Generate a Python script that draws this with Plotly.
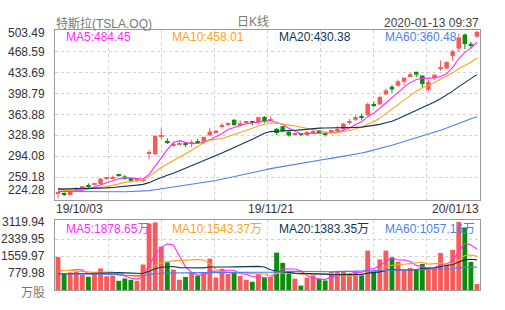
import numpy as np
import pandas as pd
import plotly.graph_objects as go

# ---------------- data ----------------
dates = ["2019-10-03", "2019-10-04", "2019-10-07", "2019-10-08", "2019-10-09", "2019-10-10", "2019-10-11",
         "2019-10-14", "2019-10-15", "2019-10-16", "2019-10-17", "2019-10-18", "2019-10-21", "2019-10-22",
         "2019-10-23", "2019-10-24", "2019-10-25", "2019-10-28", "2019-10-29", "2019-10-30", "2019-10-31",
         "2019-11-01", "2019-11-04", "2019-11-05", "2019-11-06", "2019-11-07", "2019-11-08", "2019-11-11",
         "2019-11-12", "2019-11-13", "2019-11-14", "2019-11-15", "2019-11-18", "2019-11-19", "2019-11-20",
         "2019-11-21", "2019-11-22", "2019-11-25", "2019-11-26", "2019-11-27", "2019-11-29", "2019-12-02",
         "2019-12-03", "2019-12-04", "2019-12-05", "2019-12-06", "2019-12-09", "2019-12-10", "2019-12-11",
         "2019-12-12", "2019-12-13", "2019-12-16", "2019-12-17", "2019-12-18", "2019-12-19", "2019-12-20",
         "2019-12-23", "2019-12-24", "2019-12-26", "2019-12-27", "2019-12-30", "2019-12-31", "2020-01-02",
         "2020-01-03", "2020-01-06", "2020-01-07", "2020-01-08", "2020-01-09", "2020-01-10", "2020-01-13"]

opens = [231.86, 231.61, 229.80, 238.20, 241.32, 245.36, 247.10, 247.90, 257.70, 257.38,
         262.50, 260.70, 258.33, 254.32, 254.50, 298.37, 297.72, 327.54, 319.99, 313.00,
         313.10, 316.32, 314.80, 319.62, 318.00, 329.14, 334.50, 343.95, 346.90, 355.00,
         346.11, 350.64, 352.92, 351.00, 360.00, 354.51, 340.16, 344.32, 335.27, 331.12,
         331.11, 329.40, 332.62, 337.75, 332.83, 335.00, 336.59, 339.34, 351.01, 354.92,
         361.05, 362.55, 379.50, 380.63, 397.32, 410.29, 411.78, 418.36, 427.91, 435.00,
         428.79, 405.00, 424.50, 440.50, 440.47, 461.40, 473.70, 497.10, 481.79, 493.50]
highs = [234.48, 234.78, 238.74, 243.23, 244.80, 249.28, 250.00, 258.00, 260.00, 262.10,
         264.78, 262.80, 258.50, 258.33, 256.14, 304.93, 330.00, 340.84, 324.30, 318.79,
         319.00, 316.48, 321.94, 323.51, 326.72, 341.50, 337.46, 349.85, 350.40, 356.33,
         353.84, 352.80, 353.15, 359.99, 361.20, 360.84, 341.00, 344.57, 335.50, 333.93,
         331.26, 336.38, 337.91, 337.86, 334.42, 338.86, 344.45, 349.94, 356.50, 362.74,
         365.21, 383.61, 385.50, 395.22, 406.85, 413.00, 422.01, 425.47, 433.48, 435.31,
         429.00, 421.29, 430.70, 454.00, 451.56, 471.63, 498.49, 498.80, 484.94, 503.49]
lows = [224.28, 228.07, 229.56, 235.45, 239.72, 241.58, 246.51, 247.17, 255.12, 256.92,
        260.17, 255.10, 250.03, 250.85, 251.35, 289.20, 296.11, 322.60, 314.75, 309.97,
        313.00, 309.80, 309.26, 316.12, 314.50, 328.02, 332.50, 340.40, 344.13, 345.18,
        344.22, 348.36, 346.10, 347.80, 349.57, 354.00, 330.00, 334.46, 327.10, 328.57,
        327.50, 328.69, 332.19, 332.85, 327.25, 334.77, 335.53, 338.45, 347.14, 353.23,
        354.64, 362.50, 375.90, 380.58, 396.50, 400.19, 410.00, 412.69, 426.35, 426.11,
        409.26, 402.08, 421.71, 436.92, 440.00, 453.36, 468.23, 472.87, 473.70, 492.00]
closes = [233.03, 231.43, 237.72, 240.05, 244.53, 244.74, 247.89, 256.96, 257.89, 259.75,
          261.97, 256.95, 253.50, 255.58, 254.68, 299.68, 328.13, 327.71, 316.22, 315.01,
          314.92, 313.31, 317.47, 317.22, 326.58, 335.54, 337.14, 345.09, 349.93, 346.11,
          349.35, 352.17, 349.99, 359.52, 352.22, 354.83, 333.04, 336.34, 328.92, 331.29,
          329.94, 334.87, 336.20, 333.03, 330.37, 335.89, 339.53, 348.84, 352.70, 359.68,
          358.39, 381.50, 378.99, 393.15, 404.04, 405.59, 419.22, 425.25, 430.94, 430.38,
          414.70, 418.33, 430.26, 443.01, 451.54, 469.06, 492.14, 481.34, 478.15, 501.56]
# volume, 10k shares (万股)
volumes = [1513, 764, 811, 840, 700, 610, 740, 990, 630, 660,
           421, 530, 468, 421, 1170, 3050, 3100, 1990, 1270, 936,
           470, 600, 811, 660, 811, 1440, 577, 975, 740, 811,
           640, 470, 380, 733, 577, 585, 1716, 1248, 755, 520,
           203, 562, 671, 515, 437, 840, 880, 880, 680, 840,
           671, 1810, 874, 1404, 1810, 1498, 1295, 905, 1014, 936,
           1200, 950, 1000, 1700, 1190, 1841, 3119.94, 2870, 1290, 272]

# sessions before the window (needed for the moving averages at the left edge)
hist_closes = [238.60, 245.08, 253.50, 252.38, 254.86, 253.54, 258.18, 255.68, 260.17, 264.88,
               228.82, 228.04, 235.77, 242.26, 241.61,
               233.85, 234.34, 228.32, 230.75, 233.42, 238.30, 235.01, 229.01, 235.00, 219.62,
               215.64, 219.94, 226.83, 225.86, 220.83, 222.15, 211.40, 215.00, 214.08, 215.59,
               221.71, 225.61,
               225.01, 220.68, 229.58, 227.45, 231.79, 235.54, 247.10, 245.87, 245.20, 242.81,
               244.79, 243.49, 246.60, 240.62, 241.23, 223.21, 228.70, 242.56, 242.13, 240.87,
               244.69, 243.13]
hist_volumes = [1000, 960, 1160, 840, 760, 720, 820, 780, 820, 1180, 2800, 1100, 850, 800, 680,
                700, 560, 720, 520, 480, 480, 490, 480, 560, 880, 980, 700, 640, 450, 590,
                520, 760, 520, 500, 440, 490, 540,
                490, 530, 690, 520, 580, 590, 1120, 760, 530, 450, 480, 440, 610, 760,
                580, 1200, 900, 960, 760, 700, 650, 780]

ma_periods = [5, 10, 20, 60]
ma_colors = ["#FF2BFF", "#FFA31A", "#0E355E", "#4D7FEF"]
price_ma_labels = ["MA5:484.45", "MA10:458.01", "MA20:430.38", "MA60:360.48"]
vol_ma_labels = ["MA5:1878.65万", "MA10:1543.37万", "MA20:1383.35万", "MA60:1057.16万"]

price_ticks = [224.28, 259.18, 294.08, 328.98, 363.88, 398.79, 433.69, 468.59, 503.49]
price_tick_labels = ["224.28", "259.18", "294.08", "328.98", "363.88", "398.79", "433.69", "468.59", "503.49"]
vol_ticks = [0, 779.98, 1559.97, 2339.95, 3119.94]
vol_tick_labels = ["万股", "779.98", "1559.97", "2339.95", "3119.94"]

date_label_idx = [0, 35, 69]
date_labels = ["19/10/03", "19/11/21", "20/01/13"]

title_left = "特斯拉(TSLA.OQ)"
title_mid = "日K线"
title_right = "2020-01-13 09:37"

# ---------------- geometry / style ----------------
W, H = 505, 310
L, R = 55, 480
MAIN_TOP, MAIN_BOT = 30, 200
VOL_TOP, VOL_BOT = 220, 290
RED = "#F75A5A"
GREEN = "#0B8E0B"
GRID = "#D2D2D2"
BORDER = "#9A9A9A"
FONT = "Liberation Sans, Arial, Noto Sans CJK SC, sans-serif"

n = len(closes)
idx = np.arange(n)
o = np.array(opens); c = np.array(closes); hi = np.array(highs); lo = np.array(lows)
up = c >= o
colors = [RED if u else GREEN for u in up]

all_c = pd.Series(hist_closes + closes)
all_v = pd.Series(hist_volumes + volumes)
price_ma = [all_c.rolling(p).mean().to_numpy()[-n:] for p in ma_periods]
vol_ma = [all_v.rolling(p).mean().to_numpy()[-n:] for p in ma_periods]


def ydom(top, bot):
    return [1 - bot / H, 1 - top / H]


# main price range: first tick sits at y=198.3px, last tick at y=30.7px
pmin, pmax = price_ticks[0], price_ticks[-1]
k = (198.3 - 30.7) / (pmax - pmin)
prange = [pmin - (MAIN_BOT - 198.3) / k, pmax + (30.7 - MAIN_TOP) / k]
# volume: 0 at bottom border, top tick at 222px
vk = (VOL_BOT - 222) / vol_ticks[-1]
vrange = [0, vol_ticks[-1] + (222 - VOL_TOP) / vk]

fig = go.Figure()

# wicks
for col, mask in ((RED, up), (GREEN, ~up)):
    xs, ys = [], []
    for i in idx[mask]:
        xs += [i, i, None]
        ys += [lows[i], highs[i], None]
    fig.add_trace(go.Scatter(x=xs, y=ys, mode="lines", line=dict(color=col, width=1),
                             hoverinfo="skip", xaxis="x", yaxis="y"))

# bodies
min_body = 1.0 / k
body_base = np.minimum(o, c)
body_h = np.maximum(np.abs(c - o), min_body)
fig.add_trace(go.Bar(x=idx, y=body_h, base=body_base, width=0.74, marker=dict(color=colors, line=dict(width=0)),
                     xaxis="x", yaxis="y"))

for ma, col in zip(price_ma, ma_colors):
    fig.add_trace(go.Scatter(x=idx, y=ma, mode="lines", line=dict(color=col, width=1.1),
                             xaxis="x", yaxis="y", hoverinfo="skip"))

# volume
fig.add_trace(go.Bar(x=idx, y=volumes, width=0.8, marker=dict(color=colors, line=dict(width=0)),
                     xaxis="x2", yaxis="y2"))
for ma, col in zip(vol_ma, ma_colors):
    fig.add_trace(go.Scatter(x=idx, y=ma, mode="lines", line=dict(color=col, width=1.1),
                             xaxis="x2", yaxis="y2", hoverinfo="skip"))

vgrid = [-0.5 + j * n / 8 for j in range(1, 8)]
xdom = [L / W, R / W]
xcommon = dict(range=[-0.5, n - 0.5], tickvals=vgrid, showticklabels=False, ticks="",
               showgrid=True, gridcolor=GRID, griddash="3px,3px", gridwidth=1,
               showline=True, mirror=True, linecolor=BORDER, linewidth=1, zeroline=False, domain=xdom)
fig.update_layout(
    width=W, height=H, margin=dict(l=0, r=0, t=0, b=0),
    paper_bgcolor="white", plot_bgcolor="white", showlegend=False, barmode="overlay",
    font=dict(family=FONT, size=12, color="#333"),
    xaxis=dict(anchor="y", **xcommon),
    xaxis2=dict(anchor="y2", **xcommon),
    yaxis=dict(domain=ydom(MAIN_TOP, MAIN_BOT), range=prange, tickvals=price_ticks[1:-1],
               showticklabels=False, ticks="", showgrid=True, gridcolor=GRID, griddash="3px,3px",
               showline=True, mirror=True, linecolor=BORDER, linewidth=1, zeroline=False, anchor="x"),
    yaxis2=dict(domain=ydom(VOL_TOP, VOL_BOT), range=vrange, tickvals=vol_ticks[1:4],
                showticklabels=False, ticks="", showgrid=True, gridcolor=GRID, griddash="3px,3px",
                showline=True, mirror=True, linecolor=BORDER, linewidth=1, zeroline=False, anchor="x2"),
)

ann = []
# header
ann.append(dict(x=L / W, y=1 - 14.5 / H, text=title_left, xanchor="left", font=dict(color="#777", size=12)))
ann.append(dict(x=253 / W, y=1 - 14.5 / H, text=title_mid, xanchor="center", font=dict(color="#777", size=12)))
ann.append(dict(x=R / W, y=1 - 14.5 / H, text=title_right, xanchor="right", font=dict(color="#444", size=12)))
# price axis labels
for j, (v, t) in enumerate(zip(price_ticks, price_tick_labels)):
    shift = 0
    if j == 0:
        shift = 8
    elif j == len(price_ticks) - 1:
        shift = -2
    ann.append(dict(x=46 / W, xref="paper", y=v, yref="y", text=t, xanchor="right", yanchor="middle",
                    yshift=shift, font=dict(color="#333", size=12)))
# volume axis labels
for j, (v, t) in enumerate(zip(vol_ticks, vol_tick_labels)):
    shift = -3 if j == 0 else 0
    col = "#777" if j == 0 else "#333"
    ann.append(dict(x=46 / W, xref="paper", y=v, yref="y2", text=t, xanchor="right", yanchor="middle",
                    yshift=shift, font=dict(color=col, size=12)))
# dates
anchors = ["left", "center", "right"]
for i, t, a in zip(date_label_idx, date_labels, anchors):
    xv = i - 0.5 if a == "left" else (i + 0.5 if a == "right" else i)
    ann.append(dict(x=xv, xref="x", y=1 - 209 / H, yref="paper", text=t, xanchor=a, yanchor="middle",
                    font=dict(color="#333", size=12)))
# MA legends
for j in range(4):
    xp = (L + 10 + j * (R - L) / 4) / W
    ann.append(dict(x=xp, y=1 - 37 / H, text=price_ma_labels[j], xanchor="left", yanchor="middle",
                    font=dict(color=ma_colors[j], size=12)))
    ann.append(dict(x=xp, y=1 - 229 / H, text=vol_ma_labels[j], xanchor="left", yanchor="middle",
                    font=dict(color=ma_colors[j], size=12)))
for a in ann:
    a.setdefault("xref", "paper")
    a.setdefault("yref", "paper")
    a["showarrow"] = False
    a["borderpad"] = 0
fig.update_layout(annotations=ann)

fig.write_html("out.html")
